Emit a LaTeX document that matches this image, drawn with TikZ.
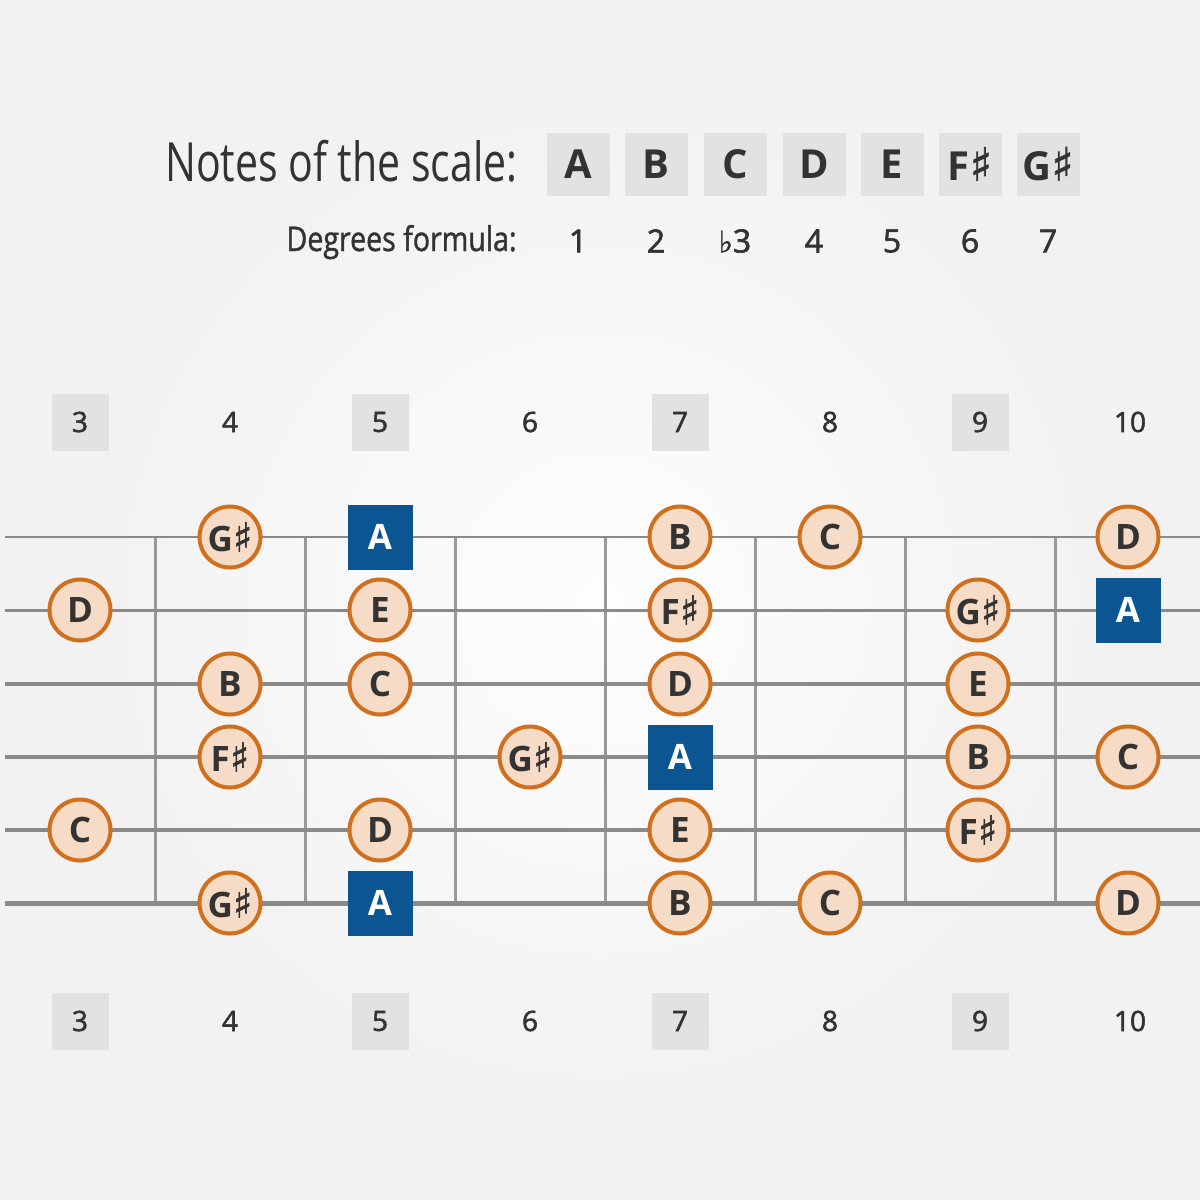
\documentclass[tikz,border=0pt]{standalone}
\usepackage{fontspec}
\setmainfont{Open Sans}
\newfontfamily\condfont[FakeStretch=0.76]{Open Sans}
\newfontfamily\degfont[FakeStretch=0.84,FakeBold=1.2]{Open Sans}
\newfontfamily\medfont[FakeBold=2]{Open Sans}
\newfontfamily\symfont[FakeBold=1.5]{DejaVu Sans}
\newcommand{\shp}{{\symfont\fontsize{20}{20}\selectfont ♯}}
\newcommand{\hshp}{{\symfont\fontsize{23}{23}\selectfont ♯}}
\newcommand{\flt}{{\symfont\fontsize{15}{15}\selectfont ♭}}
\definecolor{paper}{HTML}{F2F2F2}
\definecolor{ink}{HTML}{333333}
\definecolor{boxgray}{HTML}{E2E2E2}
\definecolor{strgray}{HTML}{8A8A8A}
\definecolor{fretgray}{HTML}{999999}
\definecolor{ringor}{HTML}{D0701E}
\definecolor{peach}{HTML}{F6DCC7}
\definecolor{rootblue}{HTML}{0B5592}
\tikzset{
  notebox/.style={fill=boxgray, minimum size=31.5pt, inner sep=0pt, text=ink,
    font=\bfseries\fontsize{20}{20}\selectfont},
  degnum/.style={text=ink, inner sep=0pt, font=\medfont\fontsize{16}{16}\selectfont},
  fretlbl/.style={text=ink, inner sep=0pt, minimum size=28.5pt, font=\medfont\fontsize{14}{14}\selectfont},
  fretbox/.style={fretlbl, fill=boxgray},
  dot/.style={circle, draw=ringor, line width=2pt, fill=peach, minimum size=30.5pt,
    inner sep=0pt, text=ink, font=\bfseries\fontsize{17.5}{17.5}\selectfont},
  root/.style={rectangle, fill=rootblue, minimum size=32.5pt, inner sep=0pt,
    text=white, font=\bfseries\fontsize{17.5}{17.5}\selectfont},
  fretline/.style={fretgray, line width=1.5pt},
}
\begin{document}
\begin{tikzpicture}[x=0.5pt,y=-0.5pt]
\useasboundingbox (0,0) rectangle (1200,1200);
\fill[paper] (0,0) rectangle (1200,1200);
\shade[inner color=white, outer color=paper, opacity=0.9] (60,60) rectangle (1140,1140);

% header
\node[anchor=base east, text=ink, inner sep=0pt, font=\condfont\fontsize{27}{27}\selectfont] (title) at (518,181) {Notes of the scale:};
\node[anchor=base east, text=ink, inner sep=0pt, font=\degfont\fontsize{17}{17}\selectfont] (deg) at (517,251) {Degrees formula:};
\node[notebox] (nA) at (578,164) {A};
\node[notebox] (nB) at (656,164) {B};
\node[notebox] (nC) at (735,164) {C};
\node[notebox] (nD) at (814,164) {D};
\node[notebox] (nE) at (892,164) {E};
\node[notebox] (nF) at (970,164) {F\hshp};
\node[notebox] (nG) at (1048,164) {G\hshp};
\node[degnum] (d1) at (578,241) {1};
\node[degnum] (d2) at (656,241) {2};
\node[degnum] (d3) at (735,241) {\flt3};
\node[degnum] (d4) at (814,241) {4};
\node[degnum] (d5) at (892,241) {5};
\node[degnum] (d6) at (970,241) {6};
\node[degnum] (d7) at (1048,241) {7};

% fret numbers
\foreach \n/\x/\s in {3/80/fretbox,4/230/fretlbl,5/380/fretbox,6/530/fretlbl,7/680/fretbox,8/830/fretlbl,9/980/fretbox,10/1130/fretlbl}{
  \node[\s] (ft\n) at (\x,422) {\n};
  \node[\s] (fb\n) at (\x,1021) {\n};
}

% frets
\foreach \x in {155,305,455,605,755,905,1055}{
  \draw[fretline] (\x,537) -- (\x,903);
}
% strings
\foreach \y/\w in {537/1.4,610/1.5,684/1.6,757/1.8,830/2.1,903/2.5}{
  \draw[strgray, line width=\w pt] (5,\y) -- (1200,\y);
}

% string 1
\node[dot] (s1f4) at (230,537) {G\shp};
\node[root] (s1f5) at (380,537) {A};
\node[dot] (s1f7) at (680,537) {B};
\node[dot] (s1f8) at (830,537) {C};
\node[dot] (s1f10) at (1128,537) {D};
% string 2
\node[dot] (s2f3) at (80,610) {D};
\node[dot] (s2f5) at (380,610) {E};
\node[dot] (s2f7) at (680,610) {F\shp};
\node[dot] (s2f9) at (978,610) {G\shp};
\node[root] (s2f10) at (1128,610) {A};
% string 3
\node[dot] (s3f4) at (230,684) {B};
\node[dot] (s3f5) at (380,684) {C};
\node[dot] (s3f7) at (680,684) {D};
\node[dot] (s3f9) at (978,684) {E};
% string 4
\node[dot] (s4f4) at (230,757) {F\shp};
\node[dot] (s4f6) at (530,757) {G\shp};
\node[root] (s4f7) at (680,757) {A};
\node[dot] (s4f9) at (978,757) {B};
\node[dot] (s4f10) at (1128,757) {C};
% string 5
\node[dot] (s5f3) at (80,830) {C};
\node[dot] (s5f5) at (380,830) {D};
\node[dot] (s5f7) at (680,830) {E};
\node[dot] (s5f9) at (978,830) {F\shp};
% string 6
\node[dot] (s6f4) at (230,903) {G\shp};
\node[root] (s6f5) at (380,903) {A};
\node[dot] (s6f7) at (680,903) {B};
\node[dot] (s6f8) at (830,903) {C};
\node[dot] (s6f10) at (1128,903) {D};
\end{tikzpicture}
\end{document}
